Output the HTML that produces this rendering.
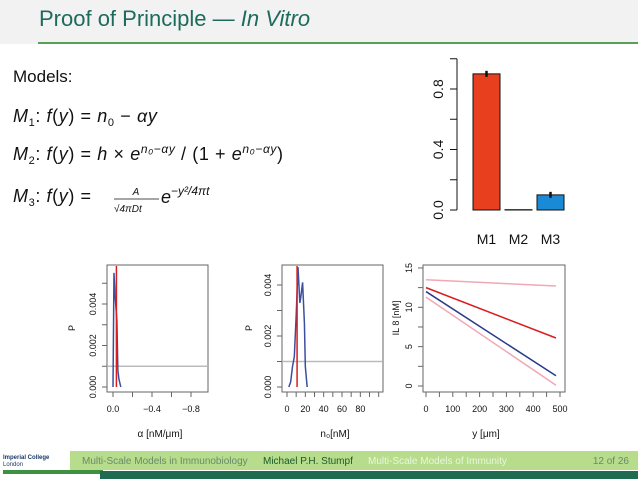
<!DOCTYPE html>
<html><head><meta charset="utf-8"><style>
html,body{margin:0;padding:0;background:#fff;}
svg{display:block;font-family:"Liberation Sans",sans-serif;}
</style></head><body>
<svg width="638" height="479" viewBox="0 0 638 479">
<rect x="0" y="0" width="638" height="44" fill="#f2f2f2"/>
<text x="39" y="26" font-size="22" fill="#1d6b5c">Proof of Principle — <tspan font-style="italic">In Vitro</tspan></text>
<rect x="38" y="42" width="600" height="2" fill="#5a9e5a"/>

<g font-size="18" fill="#111">
<text x="13" y="82" font-size="17">Models:</text>
<text x="13" y="122" font-style="italic" letter-spacing="0.6">M<tspan font-size="11" dy="4" font-style="normal">1</tspan><tspan dy="-4" font-style="normal">: </tspan>f<tspan font-style="normal">(</tspan>y<tspan font-style="normal">) = </tspan>n<tspan font-size="11" dy="4" font-style="normal">0</tspan><tspan dy="-4" font-style="normal"> − </tspan>αy</text>
<text x="13" y="160" font-style="italic" letter-spacing="0.6">M<tspan font-size="11" dy="4" font-style="normal">2</tspan><tspan dy="-4" font-style="normal">: </tspan>f<tspan font-style="normal">(</tspan>y<tspan font-style="normal">) = </tspan>h<tspan font-style="normal"> × </tspan>e<tspan font-size="12" dy="-7">n₀−αy</tspan><tspan dy="7" font-style="normal"> / (1 + </tspan>e<tspan font-size="12" dy="-7">n₀−αy</tspan><tspan dy="7" font-style="normal">)</tspan></text>
<text x="13" y="202" font-style="italic" letter-spacing="0.6">M<tspan font-size="11" dy="4" font-style="normal">3</tspan><tspan dy="-4" font-style="normal">: </tspan>f<tspan font-style="normal">(</tspan>y<tspan font-style="normal">) = </tspan></text>
<text x="136" y="195" font-size="10" font-style="italic" text-anchor="middle">A</text>
<line x1="114" y1="199" x2="159" y2="199" stroke="#111" stroke-width="0.8"/>
<text x="114" y="212" font-size="10" font-style="italic">√4πDt</text>
<text x="161" y="203" font-style="italic">e<tspan font-size="12" dy="-8">−y²/4πt</tspan></text>
</g>

<g id="bar"></g>
<g id="c1"></g>
<g id="c2"></g>
<g id="c3"></g>

<g>
<text x="3" y="459" font-size="6" font-weight="bold" fill="#1a3a6a">Imperial College</text>
<text x="3" y="466" font-size="6" fill="#1a3a6a">London</text>
<rect x="70" y="451" width="568" height="19" fill="#b6dc8c"/>
<rect x="3" y="470" width="100" height="4" fill="#3e9140"/>
<rect x="100" y="471" width="538" height="8" fill="#1f6b4f"/>
<text x="82" y="464" font-size="10" fill="#6a8a6a">Multi-Scale Models in Immunobiology</text>
<text x="263" y="464" font-size="10" fill="#1d5a2a">Michael P.H. Stumpf</text>
<text x="368" y="464" font-size="10" fill="#eaf6dd">Multi-Scale Models of Immunity</text>
<text x="629" y="464" font-size="10" fill="#6a8a6a" text-anchor="end">12 of 26</text>
</g>
</svg>
<script>
const NS='http://www.w3.org/2000/svg';
// bar chart data
const barCats=['M1','M2','M3'];
const barVals=[0.90,0.002,0.10];
const barErr=[0.02,0,0.02];
const barColors=['#e8401f','#888','#1a8ad6'];
const barTicks=[0.0,0.4,0.8];
// alpha posterior
const alphaX=[0,-0.01,-0.02,-0.04,-0.05,-0.06,-0.08];
const alphaP=[0,0.0055,0.0045,0.0032,0.0008,0.0004,0];
const alphaTrue=-0.035;
const alphaTicks=[0.0,-0.4,-0.8];
const pTicks1=[0.000,0.002,0.004];
// n0 posterior
const n0X=[2,4,6,8,10,12,14,15,17,19,20,22];
const n0P=[0,0.0002,0.0008,0.0012,0.0028,0.0047,0.0033,0.0035,0.0041,0.0025,0.0008,0];
const n0True=11;
const n0Ticks=[0,20,40,60,80];
const pTicks2=[0.000,0.002,0.004];
const pThresh=0.001;
// IL8 lines (start/end at y=0 and y=485)
const ilY=[0,485];
const ilSeries=[[13.5,12.7],[12.5,6.1],[12.0,1.3],[11.3,0.1]];
const ilColors=['#f2a7b4','#d81e1e','#2b3a8a','#f2a7b4'];
const yTicks3=[0,100,200,300,400,500];
const ilTicks=[0,5,10,15];

function el(t,a,p){const e=document.createElementNS(NS,t);for(const k in a)e.setAttribute(k,a[k]);p.appendChild(e);return e;}
function txt(p,x,y,s,fs,anchor,rot){const e=el('text',{x:x,y:y,'font-size':fs,'text-anchor':anchor||'middle',fill:'#111'},p);if(rot)e.setAttribute('transform','rotate(-90 '+x+' '+y+')');e.textContent=s;return e;}

// Bar chart
(function(){
 const g=document.getElementById('bar');
 const sy=v=>210-v*151.25;
 el('line',{x1:457,y1:sy(0),x2:457,y2:sy(1),stroke:'#111','stroke-width':1},g);
 for(let i=0;i<=5;i++){el('line',{x1:450,y1:sy(i*0.2),x2:457,y2:sy(i*0.2),stroke:'#111'},g);}
 barTicks.forEach(t=>{txt(g,443,sy(t),t.toFixed(1),14,'middle',true);});
 barCats.forEach((c,i)=>{
  const x=473+i*32;
  const r=el('rect',{x:x,y:sy(barVals[i]),width:27,height:sy(0)-sy(barVals[i]),fill:barColors[i],stroke:'#111','stroke-width':1},g);
  
  
  if(barErr[i]>0)el('line',{x1:x+13.5,y1:sy(barVals[i]+barErr[i]),x2:x+13.5,y2:sy(barVals[i]-barErr[i]),stroke:'#111','stroke-width':2.5},g);
  txt(g,x+13.5,244,c,14);
 });
})();

function frame(g,x0,x1,y0,y1){el('rect',{x:x0,y:y0,width:x1-x0,height:y1-y0,fill:'none',stroke:'#666','stroke-width':1},g);}
function poly(g,xs,ys,sx,sy,col,w){el('polyline',{points:xs.map((v,i)=>sx(v)+','+sy(ys[i])).join(' '),fill:'none',stroke:col,'stroke-width':w},g);}

// Chart 1
(function(){
 const g=document.getElementById('c1');
 const sx=v=>113-v*97.5, sy=v=>387-v*20750;
 frame(g,107,208,265,392);
 el('line',{x1:108,y1:sy(pThresh),x2:207,y2:sy(pThresh),stroke:'#bbb','stroke-width':1.5},g);
 poly(g,alphaX,alphaP,sx,sy,'#3b4fa0',1.5);
 el('line',{x1:sx(alphaTrue),y1:266,x2:sx(alphaTrue),y2:sy(0),stroke:'#d81e1e','stroke-width':1.5},g);
 for(let v=0;v>=-0.95;v-=0.2)el('line',{x1:sx(v),y1:392,x2:sx(v),y2:397,stroke:'#666'},g);
 alphaTicks.forEach(t=>txt(g,sx(t),412,t===0?'0.0':'−'+Math.abs(t).toFixed(1),9));
 for(let v=0;v<=0.0055;v+=0.001)el('line',{x1:102,y1:sy(v),x2:107,y2:sy(v),stroke:'#666'},g);
 pTicks1.forEach(t=>txt(g,96,sy(t),t.toFixed(3),9,'middle',true));
 txt(g,75,328,'P',9,'middle',true);
 txt(g,160,437,'α [nM/μm]',10);
})();

// Chart 2
(function(){
 const g=document.getElementById('c2');
 const sx=v=>287+v*0.9167, sy=v=>387-v*25500;
 frame(g,282,383,265,392);
 el('line',{x1:283,y1:sy(pThresh),x2:382,y2:sy(pThresh),stroke:'#bbb','stroke-width':1.5},g);
 poly(g,n0X,n0P,sx,sy,'#3b4fa0',1.5);
 el('line',{x1:sx(n0True),y1:266,x2:sx(n0True),y2:sy(0),stroke:'#d81e1e','stroke-width':1.5},g);
 for(let v=0;v<=100;v+=10)el('line',{x1:sx(v),y1:392,x2:sx(v),y2:397,stroke:'#666'},g);
 n0Ticks.forEach(t=>txt(g,sx(t),412,String(t),9));
 for(let v=0;v<=0.0045;v+=0.001)el('line',{x1:277,y1:sy(v),x2:282,y2:sy(v),stroke:'#666'},g);
 pTicks2.forEach(t=>txt(g,271,sy(t),t.toFixed(3),9,'middle',true));
 txt(g,252,328,'P',9,'middle',true);
 txt(g,335,437,'n₀[nM]',10);
})();

// Chart 3
(function(){
 const g=document.getElementById('c3');
 const sx=v=>426+v*0.268, sy=v=>386-v*7.87;
 frame(g,423,565,265,392);
 ilSeries.forEach((s,i)=>{
  const p=el('polyline',{points:ilY.map((v,j)=>sx(v)+','+sy(s[j])).join(' '),fill:'none',stroke:ilColors[i],'stroke-width':1.5},g);
  
  
 });
 for(let v=0;v<=500;v+=50)el('line',{x1:sx(v),y1:392,x2:sx(v),y2:397,stroke:'#666'},g);
 yTicks3.forEach(t=>txt(g,sx(t),412,String(t),9));
 for(let v=0;v<=15;v+=2.5)el('line',{x1:418,y1:sy(v),x2:423,y2:sy(v),stroke:'#666'},g);
 ilTicks.forEach(t=>txt(g,412,sy(t),String(t),9,'middle',true));
 txt(g,399,318,'IL 8 [nM]',9,'middle',true);
 txt(g,486,437,'y [μm]',10);
})();
</script>
</body></html>
